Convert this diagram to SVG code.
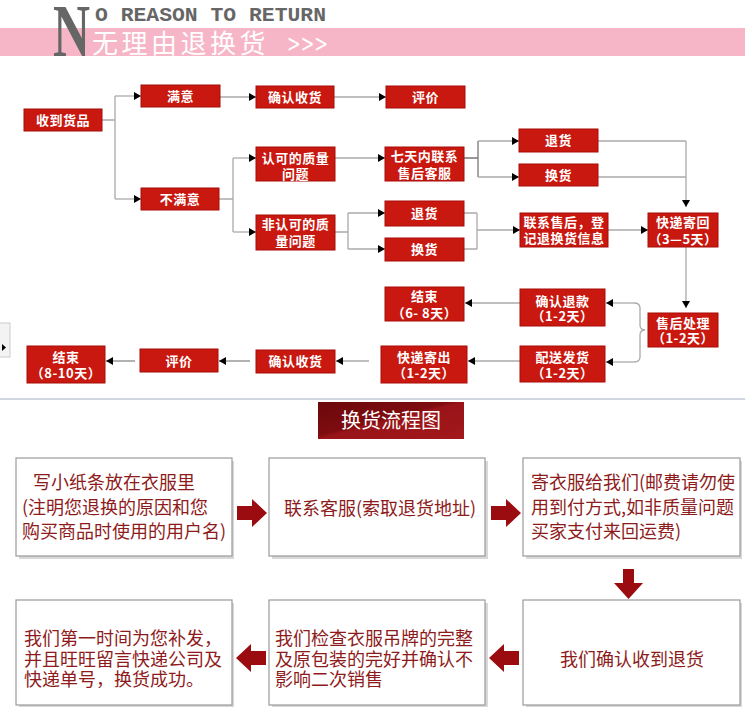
<svg xmlns="http://www.w3.org/2000/svg" width="745" height="709" viewBox="0 0 745 709">
<defs>
<style>
.rb{fill:#c8180f;stroke:#a80c08;stroke-width:1}
.rt{fill:#fff;font-family:"Noto Sans CJK SC","Noto Sans",sans-serif;font-size:13px;font-weight:bold;text-anchor:middle;letter-spacing:0.5px}
.ln{fill:none;stroke:#aaa;stroke-width:1.3}
.la{fill:none;stroke:#aaa;stroke-width:1.3;marker-end:url(#ah)}
.wb{fill:#fff;stroke:#9a9a9a;stroke-width:1.2}
.sh{fill:#d8d8d8}
.bt{fill:#8e1b1b;font-family:"Noto Sans CJK SC","Noto Sans",sans-serif;font-size:18px}
.ba{fill:#9a0c10}
</style>
<marker id="ah" viewBox="0 0 7 8" refX="7" refY="4" markerWidth="7" markerHeight="8" markerUnits="userSpaceOnUse" orient="auto">
<path d="M0,0 L7,4 L0,8 z" fill="#000"/>
</marker>
<linearGradient id="tg" x1="0" y1="0" x2="1" y2="1">
<stop offset="0" stop-color="#6a080b"/>
<stop offset="0.45" stop-color="#7e0c10"/>
<stop offset="0.5" stop-color="#981418"/>
<stop offset="1" stop-color="#a3181c"/>
</linearGradient>
</defs>
<rect width="745" height="709" fill="#fff"/>

<g id="header">
<rect x="0" y="28" width="745" height="28" fill="#f6b6c7"/>
<text x="53" y="56" font-family="Liberation Serif,serif" font-size="74" font-weight="bold" fill="#666" textLength="37" lengthAdjust="spacingAndGlyphs">N</text>
<text x="95" y="21" font-family="Liberation Mono,monospace" font-size="21" font-weight="bold" fill="#666" textLength="231" lengthAdjust="spacingAndGlyphs">O REASON TO RETURN</text>
<text x="92" y="53" font-family="Noto Sans CJK SC,sans-serif" font-size="26" fill="#fff" letter-spacing="3.5">无理由退换货</text>
<text x="287" y="52" font-family="DejaVu Sans,sans-serif" font-size="24" fill="#fff" textLength="41" lengthAdjust="spacingAndGlyphs">&gt;&gt;&gt;</text>
</g>

<g id="side-tab">
<rect x="-2" y="323" width="12" height="34" fill="#f3f3f3" stroke="#ccc"/>
<path d="M2,344 L6,347.5 L2,351 z" fill="#000"/>
</g>

<g id="connectors">
<path class="ln" d="M102,120 H115 M115,96 V199"/>
<path class="la" d="M115,96 H141"/>
<path class="la" d="M115,199 H141"/>
<path class="la" d="M220,97 H256"/>
<path class="la" d="M334,97 H386"/>
<path class="ln" d="M219,199 H233 M233,158 V232"/>
<path class="la" d="M233,158 H256"/>
<path class="la" d="M233,232 H256"/>
<path class="la" d="M335,158 H385"/>
<path class="ln" d="M464,158 H478 M478,141 V177" style="stroke:#777"/>
<path class="la" d="M478,141 H519"/>
<path class="la" d="M478,177 H519"/>
<path class="ln" d="M598,141 H686 M598,177 H686"/>
<path class="la" d="M686,141 V207"/>
<path class="ln" d="M335,232 H348 M348,213 V249"/>
<path class="la" d="M348,213 H385"/>
<path class="la" d="M348,249 H385"/>
<path class="ln" d="M464,213 H477 M464,249 H477 M477,213 V249"/>
<path class="la" d="M477,230 H520"/>
<path class="la" d="M608,230 H648"/>
<path class="la" d="M686,247 V308"/>
<path class="ln" d="M634,303 Q640,303 640,308 V325 Q640,330 645,330 Q640,330 640,335 V357 Q640,362 634,362"/>
<path class="la" d="M634,303 H606"/>
<path class="la" d="M634,362 H606"/>
<path class="la" d="M520,303 H465"/>
<path class="la" d="M520,361 H468"/>
<path class="la" d="M369,361 H336"/>
<path class="la" d="M250,361 H219" style="stroke:#888"/>
<path class="la" d="M135,361 H106" style="stroke:#888"/>
</g>

<g id="n-received"><rect class="rb" x="24" y="109" width="78" height="22"/><text class="rt" x="63" y="125">收到货品</text></g>
<g id="n-satisfied"><rect class="rb" x="141" y="85" width="79" height="22"/><text class="rt" x="180.5" y="101">满意</text></g>
<g id="n-confirm1"><rect class="rb" x="256" y="86" width="78" height="22"/><text class="rt" x="295" y="102">确认收货</text></g>
<g id="n-review1"><rect class="rb" x="386" y="86" width="79" height="22"/><text class="rt" x="425.5" y="102">评价</text></g>
<g id="n-unsatisfied"><rect class="rb" x="141" y="188" width="78" height="22"/><text class="rt" x="180" y="204">不满意</text></g>
<g id="n-quality"><rect class="rb" x="256" y="147" width="79" height="34"/><text class="rt" x="295.5" y="163">认可的质量</text><text class="rt" x="295.5" y="179">问题</text></g>
<g id="n-nonquality"><rect class="rb" x="256" y="215" width="79" height="35"/><text class="rt" x="295.5" y="229">非认可的质</text><text class="rt" x="295.5" y="246">量问题</text></g>
<g id="n-contact7"><rect class="rb" x="385" y="147" width="79" height="34"/><text class="rt" x="424.5" y="161">七天内联系</text><text class="rt" x="424.5" y="178">售后客服</text></g>
<g id="n-return-u"><rect class="rb" x="519" y="129" width="79" height="23"/><text class="rt" x="558.5" y="145">退货</text></g>
<g id="n-exchange-u"><rect class="rb" x="519" y="164" width="79" height="22"/><text class="rt" x="558.5" y="180">换货</text></g>
<g id="n-return-l"><rect class="rb" x="385" y="201" width="79" height="25"/><text class="rt" x="424.5" y="218">退货</text></g>
<g id="n-exchange-l"><rect class="rb" x="385" y="238" width="79" height="23"/><text class="rt" x="424.5" y="254">换货</text></g>
<g id="n-register"><rect class="rb" x="520" y="213" width="88" height="34"/><text class="rt" x="564" y="227">联系售后，登</text><text class="rt" x="564" y="243">记退换货信息</text></g>
<g id="n-shipback"><rect class="rb" x="648" y="213" width="70" height="34"/><text class="rt" x="683" y="227">快递寄回</text><text class="rt" x="683" y="244">（3—5天）</text></g>
<g id="n-aftersale"><rect class="rb" x="648" y="313" width="70" height="34"/><text class="rt" x="683" y="328">售后处理</text><text class="rt" x="683" y="343">（1-2天）</text></g>
<g id="n-refund"><rect class="rb" x="520" y="289" width="85" height="37"/><text class="rt" x="562.5" y="306">确认退款</text><text class="rt" x="562.5" y="321">（1-2天）</text></g>
<g id="n-end1"><rect class="rb" x="385" y="287" width="79" height="34"/><text class="rt" x="424.5" y="301">结束</text><text class="rt" x="424.5" y="318">（6- 8天）</text></g>
<g id="n-deliver"><rect class="rb" x="520" y="346" width="85" height="36"/><text class="rt" x="562.5" y="362">配送发货</text><text class="rt" x="562.5" y="378">（1-2天）</text></g>
<g id="n-shipout"><rect class="rb" x="381" y="346" width="86" height="37"/><text class="rt" x="424" y="362">快递寄出</text><text class="rt" x="424" y="378">（1-2天）</text></g>
<g id="n-confirm2"><rect class="rb" x="256" y="350" width="79" height="23"/><text class="rt" x="295.5" y="366">确认收货</text></g>
<g id="n-review2"><rect class="rb" x="140" y="349" width="78" height="23"/><text class="rt" x="179" y="366">评价</text></g>
<g id="n-end2"><rect class="rb" x="27" y="346" width="78" height="37"/><text class="rt" x="66" y="362">结束</text><text class="rt" x="66" y="378">（8-10天）</text></g>

<line x1="0" y1="399" x2="745" y2="399" stroke="#c3c9d6" stroke-width="1.5"/>

<g id="title">
<rect x="318" y="402" width="146" height="37" fill="url(#tg)"/>
<text x="391" y="428" font-family="Noto Sans CJK SC,sans-serif" font-size="20" fill="#fff" text-anchor="middle">换货流程图</text>
</g>

<g id="step1"><rect class="sh" x="19" y="461" width="215" height="98"/><rect class="wb" x="16" y="458" width="216" height="98"/>
<text class="bt" x="33" y="489">写小纸条放在衣服里</text><text class="bt" x="22" y="514">(注明您退换的原因和您</text><text class="bt" x="22" y="538">购买商品时使用的用户名)</text></g>
<g id="step2"><rect class="sh" x="272" y="461" width="216" height="98"/><rect class="wb" x="269" y="458" width="216" height="98"/>
<text class="bt" x="284" y="515">联系客服(索取退货地址)</text></g>
<g id="step3"><rect class="sh" x="526" y="461" width="216" height="98"/><rect class="wb" x="523" y="458" width="217" height="98"/>
<text class="bt" x="531" y="489">寄衣服给我们(邮费请勿使</text><text class="bt" x="531" y="514">用到付方式,如非质量问题</text><text class="bt" x="531" y="538">买家支付来回运费)</text></g>
<g id="step4"><rect class="sh" x="526" y="603" width="216" height="104"/><rect class="wb" x="523" y="600" width="217" height="105"/>
<text class="bt" x="632" y="666" text-anchor="middle">我们确认收到退货</text></g>
<g id="step5"><rect class="sh" x="272" y="603" width="216" height="104"/><rect class="wb" x="269" y="600" width="216" height="105"/>
<text class="bt" x="275" y="645">我们检查衣服吊牌的完整</text><text class="bt" x="275" y="666">及原包装的完好并确认不</text><text class="bt" x="275" y="686">影响二次销售</text></g>
<g id="step6"><rect class="sh" x="19" y="603" width="215" height="104"/><rect class="wb" x="16" y="600" width="216" height="105"/>
<text class="bt" x="24" y="645">我们第一时间为您补发，</text><text class="bt" x="24" y="666">并且旺旺留言快递公司及</text><text class="bt" x="24" y="686">快递单号，换货成功。</text></g>

<g id="block-arrows">
<path class="ba" d="M237,506 H252 V499 L267,513 L252,527 V520 H237 z"/>
<path class="ba" d="M491,506 H506 V499 L521,513 L506,527 V520 H491 z"/>
<path class="ba" d="M623,569 H634 V583 H643 L628.5,599 L614,583 H623 z"/>
<path class="ba" d="M519,651 H504 V644 L489,658 L504,672 V665 H519 z"/>
<path class="ba" d="M266,651 H251 V644 L236,658 L251,672 V665 H266 z"/>
</g>
</svg>
